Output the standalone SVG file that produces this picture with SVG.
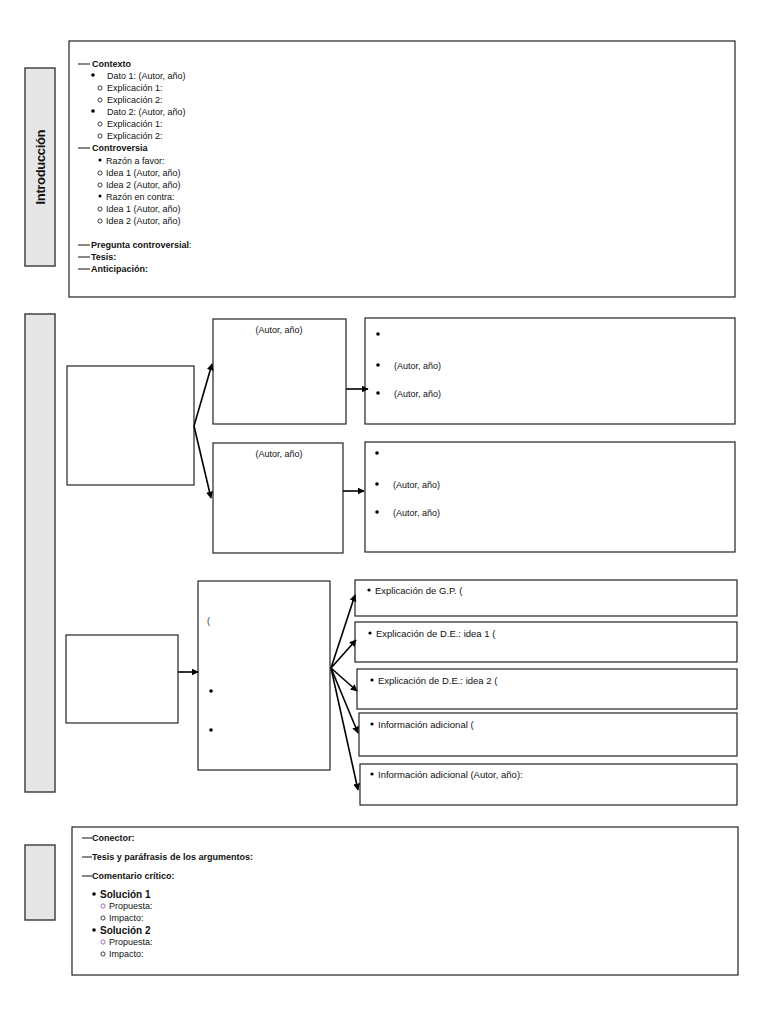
<svg xmlns="http://www.w3.org/2000/svg" width="768" height="1024" viewBox="0 0 768 1024">
<defs>
<marker id="ah" viewBox="0 0 10 10" refX="9" refY="5" markerWidth="7" markerHeight="7" markerUnits="userSpaceOnUse" orient="auto"><path d="M0,0 L10,5 L0,10 z" fill="#000"/></marker>
<style>
.box{fill:#fff;stroke:#222;stroke-width:1.2}
.lab{fill:#e6e6e6;stroke:#444;stroke-width:1.5}
text{font-family:"Liberation Sans",Arial,sans-serif;font-size:9px;fill:#111}
.b{font-weight:bold}
.r{font-size:9.5px}
.c{stroke:#000;stroke-width:1.6;fill:none;marker-end:url(#ah)}
.d{stroke:#111;stroke-width:1}
.o{fill:none;stroke:#111;stroke-width:0.8}
.op{fill:none;stroke:#7a4aa8;stroke-width:0.8}
</style>
</defs>
<rect width="768" height="1024" fill="#fff"/>

<g id="intro-label"><rect class="lab" x="25" y="68" width="30" height="198"/>
<text class="b" transform="translate(45,167) rotate(-90)" text-anchor="middle" style="font-size:13px" textLength="75">Introducción</text></g>

<g id="intro-box"><rect class="box" x="69" y="41" width="666" height="256"/>
<line class="d" x1="78" y1="64" x2="90" y2="64"/><text class="b" x="92" y="67">Contexto</text>
<circle cx="93" cy="75" r="1.8"/><text x="107" y="79">Dato 1: (Autor, año)</text>
<circle class="o" cx="100" cy="88" r="2.1"/><text x="107" y="91">Explicación 1:</text>
<circle class="o" cx="100" cy="100" r="2.1"/><text x="107" y="103">Explicación 2:</text>
<circle cx="93" cy="111" r="1.8"/><text x="107" y="115">Dato 2: (Autor, año)</text>
<circle class="o" cx="100" cy="124" r="2.1"/><text x="107" y="127">Explicación 1:</text>
<circle class="o" cx="100" cy="136" r="2.1"/><text x="107" y="139">Explicación 2:</text>
<line class="d" x1="78" y1="148" x2="90" y2="148"/><text class="b" x="92" y="151">Controversia</text>
<circle cx="100" cy="160" r="1.5"/><text x="106" y="164">Razón a favor:</text>
<circle class="o" cx="100" cy="173" r="2.1"/><text x="106" y="176">Idea 1 (Autor, año)</text>
<circle class="o" cx="100" cy="185" r="2.1"/><text x="106" y="188">Idea 2 (Autor, año)</text>
<circle cx="100" cy="196" r="1.5"/><text x="106" y="200">Razón en contra:</text>
<circle class="o" cx="100" cy="209" r="2.1"/><text x="106" y="212">Idea 1 (Autor, año)</text>
<circle class="o" cx="100" cy="221" r="2.1"/><text x="106" y="224">Idea 2 (Autor, año)</text>
<line class="d" x1="78" y1="245" x2="90" y2="245"/><text class="b" x="91" y="248">Pregunta controversial<tspan style="font-weight:normal">:</tspan></text>
<line class="d" x1="78" y1="257" x2="90" y2="257"/><text class="b" x="91" y="260">Tesis:</text>
<line class="d" x1="78" y1="269" x2="90" y2="269"/><text class="b" x="91" y="272">Anticipación:</text>
</g>

<g id="body-label"><rect class="lab" x="25" y="314" width="30" height="478"/></g>

<g id="nA"><rect class="box" x="67" y="366" width="127" height="119"/></g>
<g id="nB"><rect class="box" x="213" y="319" width="133" height="105"/><text x="279" y="333" text-anchor="middle">(Autor, año)</text></g>
<g id="nC"><rect class="box" x="213" y="443" width="130" height="110"/><text x="279" y="457" text-anchor="middle">(Autor, año)</text></g>
<g id="nD"><rect class="box" x="365" y="318" width="370" height="106"/>
<circle cx="378" cy="334" r="1.8"/><circle cx="378" cy="365" r="1.8"/><circle cx="378" cy="393" r="1.8"/>
<text x="394" y="369">(Autor, año)</text><text x="394" y="397">(Autor, año)</text></g>
<g id="nE"><rect class="box" x="365" y="442" width="370" height="110"/>
<circle cx="377" cy="453" r="1.8"/><circle cx="377" cy="484" r="1.8"/><circle cx="377" cy="512" r="1.8"/>
<text x="393" y="488">(Autor, año)</text><text x="393" y="516">(Autor, año)</text></g>

<g id="nF"><rect class="box" x="66" y="635" width="112" height="88"/></g>
<g id="nG"><rect class="box" x="198" y="581" width="132" height="189"/>
<text x="207" y="624" style="fill:#333">(</text><circle cx="211" cy="691" r="1.8"/><circle cx="211" cy="730" r="1.8"/></g>
<g id="r1"><rect class="box" x="355" y="580" width="382" height="36"/><circle cx="369" cy="590" r="1.6"/><text class="r" x="375" y="594">Explicación de G.P. (</text></g>
<g id="r2"><rect class="box" x="355" y="622" width="382" height="40"/><circle cx="370" cy="633" r="1.6"/><text class="r" x="376" y="637">Explicación de D.E.: idea 1 (</text></g>
<g id="r3"><rect class="box" x="357" y="669" width="380" height="40"/><circle cx="372" cy="680" r="1.6"/><text class="r" x="378" y="684">Explicación de D.E.: idea 2 (</text></g>
<g id="r4"><rect class="box" x="359" y="713" width="378" height="43"/><circle cx="372" cy="724" r="1.6"/><text class="r" x="378" y="728">Información adicional (</text></g>
<g id="r5"><rect class="box" x="360" y="764" width="377" height="41"/><circle cx="372" cy="774" r="1.6"/><text class="r" x="378" y="778">Información adicional (Autor, año):</text></g>

<g id="concl-label"><rect class="lab" x="25" y="845" width="30" height="75"/></g>
<g id="concl-box"><rect class="box" x="72" y="827" width="666" height="148"/>
<line class="d" x1="82" y1="838" x2="92" y2="838"/><text class="b" x="92" y="841">Conector:</text>
<line class="d" x1="82" y1="857" x2="92" y2="857"/><text class="b" x="92" y="860">Tesis y paráfrasis de los argumentos:</text>
<line class="d" x1="82" y1="876" x2="92" y2="876"/><text class="b" x="92" y="879">Comentario crítico:</text>
<circle cx="94" cy="894" r="1.8"/><text class="b" x="100" y="898" style="font-size:10px">Solución 1</text>
<circle class="op" cx="103" cy="906" r="2.1"/><text x="109" y="909">Propuesta:</text>
<circle class="o" cx="103" cy="918" r="2.1"/><text x="109" y="921">Impacto:</text>
<circle cx="94" cy="930" r="1.8"/><text class="b" x="100" y="934" style="font-size:10px">Solución 2</text>
<circle class="op" cx="103" cy="942" r="2.1"/><text x="109" y="945">Propuesta:</text>
<circle class="o" cx="103" cy="954" r="2.1"/><text x="109" y="957">Impacto:</text>
</g>

<g id="connectors">
<line class="c" x1="194" y1="426" x2="212" y2="364"/>
<line class="c" x1="194" y1="426" x2="211" y2="498"/>
<line class="c" x1="346" y1="389" x2="368" y2="389"/>
<line class="c" x1="343" y1="491" x2="364" y2="491"/>
<line class="c" x1="178" y1="672" x2="198" y2="672"/>
<line class="c" x1="331" y1="668" x2="355" y2="595"/>
<line class="c" x1="331" y1="668" x2="356" y2="640"/>
<line class="c" x1="331" y1="668" x2="357" y2="691"/>
<line class="c" x1="331" y1="668" x2="358" y2="733"/>
<line class="c" x1="331" y1="668" x2="358" y2="790"/>
</g>
</svg>
